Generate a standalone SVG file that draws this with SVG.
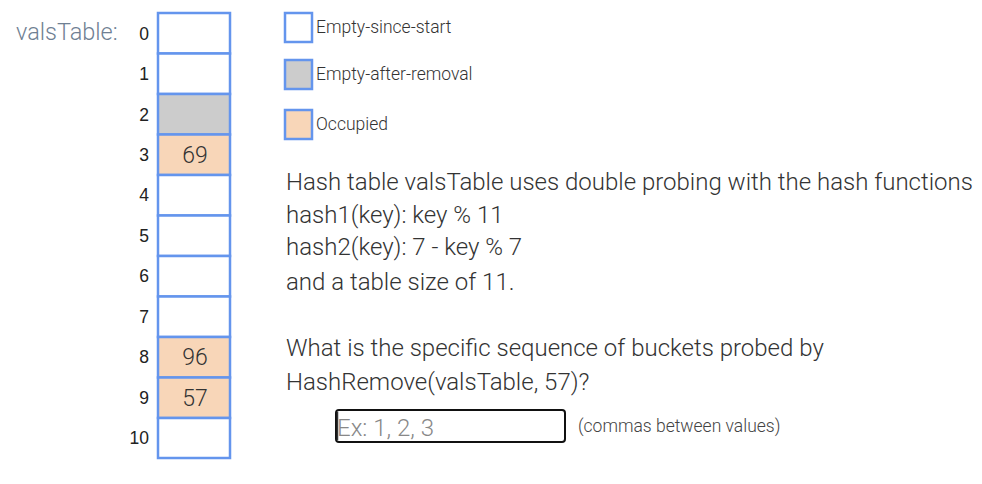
<svg xmlns="http://www.w3.org/2000/svg" width="982" height="484" viewBox="0 0 982 484">
<style>
.cell{stroke:#6495ED;stroke-width:2.5}
.e{fill:#fff}.r{fill:#ccc}.o{fill:#f8d6b8}
.idx{font-family:"Liberation Sans",Arial,sans-serif;font-size:17.5px;fill:#222;text-anchor:end}
.val{font-family:Roboto,sans-serif;font-weight:300;font-size:23px;fill:#333;text-anchor:middle}
.leg{font-family:Roboto,sans-serif;font-weight:300;font-size:17.5px;fill:#333}
.q{font-family:Roboto,sans-serif;font-weight:300;font-size:24px;fill:#333}
</style>
<rect width="982" height="484" fill="#fff"/>
<text x="16" y="40" font-family="Roboto,sans-serif" font-weight="300" font-size="23.5" fill="#6f7f93">valsTable:</text>
<g id="table">
<g id="b0"><rect class="cell e" x="158" y="13" width="72" height="40.5"/><text class="idx" x="149" y="40">0</text></g>
<g id="b1"><rect class="cell e" x="158" y="53.5" width="72" height="40.5"/><text class="idx" x="149" y="80">1</text></g>
<g id="b2"><rect class="cell r" x="158" y="94" width="72" height="40.5"/><text class="idx" x="149" y="121">2</text></g>
<g id="b3"><rect class="cell o" x="158" y="134.5" width="72" height="40.5"/><text class="idx" x="149" y="161">3</text><text class="val" x="195" y="163">69</text></g>
<g id="b4"><rect class="cell e" x="158" y="175" width="72" height="40.5"/><text class="idx" x="149" y="201">4</text></g>
<g id="b5"><rect class="cell e" x="158" y="215.5" width="72" height="40.5"/><text class="idx" x="149" y="242">5</text></g>
<g id="b6"><rect class="cell e" x="158" y="256" width="72" height="40.5"/><text class="idx" x="149" y="282">6</text></g>
<g id="b7"><rect class="cell e" x="158" y="296.5" width="72" height="40.5"/><text class="idx" x="149" y="323">7</text></g>
<g id="b8"><rect class="cell o" x="158" y="337" width="72" height="40.5"/><text class="idx" x="149" y="363">8</text><text class="val" x="195" y="365">96</text></g>
<g id="b9"><rect class="cell o" x="158" y="377.5" width="72" height="40.5"/><text class="idx" x="149" y="404">9</text><text class="val" x="195" y="406">57</text></g>
<g id="b10"><rect class="cell e" x="158" y="418" width="72" height="40"/><text class="idx" x="149" y="444">10</text></g>
</g>
<g id="legend">
<g id="l1"><rect class="cell e" x="285" y="13" width="27" height="29"/><text class="leg" x="316" y="33">Empty-since-start</text></g>
<g id="l2"><rect class="cell r" x="285" y="60" width="27" height="29"/><text class="leg" x="316" y="80">Empty-after-removal</text></g>
<g id="l3"><rect class="cell o" x="285" y="110" width="27" height="29"/><text class="leg" x="316" y="130">Occupied</text></g>
</g>
<g id="question">
<text class="q" x="286" y="190">Hash table valsTable uses double probing with the hash functions</text>
<text class="q" x="286" y="223">hash1(key): key % 11</text>
<text class="q" x="286" y="255">hash2(key): 7 - key % 7</text>
<text class="q" x="286" y="290">and a table size of 11.</text>
<text class="q" x="286" y="356">What is the specific sequence of buckets probed by</text>
<text class="q" x="286" y="390">HashRemove(valsTable, 57)?</text>
</g>
<g id="input">
<rect x="336" y="410" width="229" height="32" rx="3" fill="#fff" stroke="#111" stroke-width="2"/>
<line x1="337.5" y1="412" x2="337.5" y2="440" stroke="#333" stroke-width="1.5"/>
<text x="337" y="436" font-family="Roboto,sans-serif" font-weight="300" font-size="24" fill="#888">Ex: 1, 2, 3</text>
<text x="578" y="432" font-family="Roboto,sans-serif" font-weight="300" font-size="17.5" fill="#444">(commas between values)</text>
</g>
</svg>
